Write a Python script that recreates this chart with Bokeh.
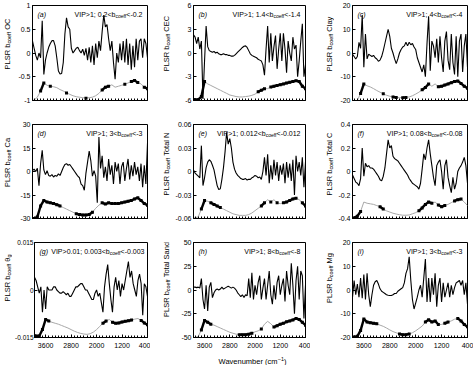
import re
import math
from bokeh.plotting import figure
from bokeh.layouts import row, column
from bokeh.models import Range1d, FixedTicker, Label
from bokeh.embed import file_html
from bokeh.resources import INLINE

# ---------------- data ----------------
X_TOP = list(range(3950, 399, -50))            # wavenumber grid of the b-coefficient lines
X_BOT = [3950] + list(range(3900, 399, -100))  # wavenumber grid of the lower (VIP) lines
X_TICKS = [3600, 2800, 2000, 1200, 400]
X_MINOR = list(range(3900, 399, -100))

a_top = [0.25, 0.1, -0.05, -0.15, 0.0, -0.1, 0.68, -0.45, -0.15, 0.0,
         0.12, 0.2, 0.26, 0.26, 0.15, -0.1, -0.38, -0.44, -0.43, -0.2,
         0.4, 0.74, 0.55, 0.5, 0.1, 0.0, 0.05, 0.1, 0.12, 0.05,
         0.0, 0.08, -0.05, 0.1, -0.15, 0.12, -0.2, 0.15, -0.25, 0.2,
         -0.1, 0.25, 0.05, 0.45, 0.8, 0.55, 0.6, 0.3, 0.05, 0.25,
         -0.2, -0.55, 0.0, -0.2, 0.2, -0.15, 0.25, -0.2, 0.3, -0.25,
         0.2, -0.35, 0.15, -0.3, 0.3, -0.15, 0.25, 0.3, -0.1, 0.3,
         0.2, -0.1]
a_bot = [-1.0, -0.99, -0.93, -0.8, -0.63, -0.68, -0.7, -0.71, -0.73, -0.77,
         -0.8, -0.84, -0.87, -0.9, -0.92, -0.93, -0.94, -0.95, -0.94, -0.93,
         -0.9, -0.85, -0.78, -0.72, -0.7, -0.67, -0.72, -0.7, -0.68, -0.66,
         -0.63, -0.6, -0.58, -0.62, -0.65, -0.72, -0.75]
a_vip = [0, 0, 0, 1, 1, 0, 1, 0, 0, 0, 0, 1, 0, 0, 0, 0, 0, 1, 0, 0,
         0, 0, 1, 1, 1, 0, 0, 0, 0, 1, 0, 1, 1, 1, 0, 1, 1]

b_top = [2.3, 2.0, 1.2, 2.0, 0.5, 1.5, -5.8, -1.0, 3.4, 0.8,
         0.3, 0.2, 0.1, 0.2, 0.0, 0.1, -0.1, -0.2, -0.2, -0.1,
         -0.2, -0.2, -0.3, -0.3, -0.4, -0.4, -0.3, -0.1, 0.1, 0.3,
         0.5, 0.7, 0.85, 0.9, 0.7, 0.3, -0.1, -0.3, -0.4, -0.5,
         -0.6, -0.8, -0.9, -1.0, -1.5, -2.8, 0.5, 3.4, -1.2, 2.5,
         -1.0, 0.8, 2.2, -2.0, 0.5, 2.5, -1.0, 2.5, 0.5, -2.5,
         1.5, 0.0, -1.0, 2.0, 0.5, 1.0, -3.0, -1.0, 1.5, 3.7,
         -3.0, -1.5]
b_bot = [-5.9, -5.9, -5.9, -5.5, -3.6, -3.9, -4.1, -4.3, -4.5, -4.7,
         -4.9, -5.1, -5.3, -5.4, -5.5, -5.55, -5.55, -5.5, -5.45, -5.35,
         -5.2, -4.9, -4.7, -4.5, -4.5, -4.3, -4.2, -4.1, -4.0, -3.9,
         -3.8, -3.7, -3.6, -3.5, -3.6, -4.2, -4.5]
b_vip = [1, 1, 1, 1, 1, 0, 0, 0, 0, 0, 0, 0, 0, 0, 0, 0, 0, 0, 0, 0,
         0, 1, 1, 1, 0, 1, 1, 1, 1, 1, 1, 1, 1, 1, 1, 1, 1]

c_top = [-0.5, -1.5, -2.5, -1.5, 4.5, 2.0, 16.0, -6.0, 8.0, -2.5,
         -0.5, -1.0, -1.5, -1.0, -2.0, -2.5, -3.5, -3.0, -1.5, 1.0,
         4.0, 7.0, 10.0, 7.0, 2.0, 0.0, -2.5, -4.5, -2.5, 0.0,
         1.5, 2.5, 3.0, 4.5, 3.0, 4.5, 3.5, 4.0, 2.5, 1.5,
         -2.0, -4.0, -6.0, -8.0, -5.0, -10.0, 4.0, 15.5, -7.5, 5.0,
         3.0, -2.0, 6.0, -4.0, 7.0, -2.0, -8.0, 5.0, 9.0, -3.0,
         -7.0, 8.0, -4.0, -9.0, 7.0, -10.0, 5.0, 8.0, -8.0, 3.0,
         8.0, -6.0]
c_bot = [-20, -20, -20, -17, -13, -13.8, -14.3, -15.0, -15.8, -16.5,
         -17.2, -17.8, -18.2, -18.5, -18.7, -18.8, -18.8, -18.7, -18.5, -18.0,
         -17.3, -16.5, -15.5, -14.5, -13.0, -14.0, -13.0, -14.2, -14.0, -13.5,
         -13.0, -12.5, -12.0, -11.8, -12.8, -14.0, -14.8]
c_vip = [0, 0, 0, 1, 1, 0, 0, 0, 0, 0, 1, 0, 0, 1, 1, 0, 1, 1, 0, 0,
         0, 0, 1, 1, 1, 0, 0, 1, 1, 1, 1, 1, 1, 1, 1, 1, 1]

d_top = [0.5, 1.5, 0.0, 2.0, -9.0, 5.0, 13.5, 1.0, -2.0, 0.5,
         -2.5, -3.0, -2.0, -3.5, -2.5, -3.0, -1.5, -2.5, 0.0, 2.5,
         4.5, 5.0, 4.0, 4.5, 3.0, 1.5, 0.0, -1.5, -3.0, -4.0,
         -8.0, -9.0, -12.0, -1.0, 6.0, 13.0, 7.0, -3.0, 0.5, -3.0,
         -20.0, 22.0, 2.0, 10.0, -4.0, 3.0, -6.0, 8.0, -2.0, 4.0,
         -8.0, 6.0, 0.0, 5.0, -8.0, 3.0, 6.0, -6.0, 2.0, 8.0,
         -5.0, 4.0, -3.0, 6.0, -2.0, 3.0, -6.0, 5.0, -10.0, 4.0,
         -8.0, 18.0]
d_bot = [-30, -30, -29, -22, -18.5, -19.5, -20.0, -20.5, -21.2, -22.0,
         -23.0, -24.0, -25.0, -26.0, -27.0, -27.5, -27.8, -27.8, -27.5, -26.0,
         -23.5, -21.5, -20.0, -20.8, -20.0, -20.5, -20.5, -20.5, -20.0, -19.5,
         -19.0, -18.5, -17.5, -16.8, -18.5, -20.5, -21.5]
d_vip = [1, 1, 1, 1, 1, 1, 1, 1, 1, 1, 0, 0, 0, 0, 1, 1, 1, 1, 1, 1,
         0, 0, 1, 1, 1, 1, 1, 1, 1, 1, 1, 1, 1, 1, 1, 1, 1]

e_top = [0.002, -0.002, -0.004, -0.006, -0.008, 0.033, -0.018, -0.008, 0.005, 0.012,
         0.015, 0.013, 0.008, 0.002, -0.008, -0.018, -0.023, -0.022, -0.01, 0.005,
         0.025, 0.05, 0.035, 0.042, 0.03, 0.012, 0.003, -0.002, -0.005, -0.007,
         -0.009, -0.01, -0.01, -0.009, -0.011, -0.01, -0.01, -0.008, -0.007, -0.005,
         -0.006, -0.008, -0.007, -0.01, 0.0, 0.018, -0.005, 0.022, -0.015, 0.008,
         -0.01, 0.015, -0.005, 0.012, -0.012, 0.008, -0.004, 0.01, -0.015, 0.012,
         -0.008, 0.01, -0.012, 0.015, -0.03, 0.02, 0.0, 0.012, -0.005, 0.018,
         -0.02, 0.012]
e_bot = [-0.06, -0.059, -0.058, -0.048, -0.037, -0.038, -0.04, -0.042, -0.044, -0.046,
         -0.048, -0.05, -0.052, -0.054, -0.055, -0.056, -0.056, -0.056, -0.055, -0.053,
         -0.05, -0.047, -0.044, -0.04, -0.036, -0.039, -0.036, -0.04, -0.041, -0.04,
         -0.039, -0.037, -0.035, -0.034, -0.036, -0.04, -0.044]
e_vip = [0, 0, 0, 1, 1, 0, 1, 1, 1, 1, 0, 0, 0, 0, 0, 0, 0, 0, 0, 0,
         0, 0, 1, 1, 0, 1, 0, 1, 0, 1, 1, 1, 1, 1, 0, 1, 1]

f_top = [-0.03, -0.06, -0.09, -0.1, -0.12, -0.06, 0.2, -0.04, 0.07, 0.04,
         0.05, 0.03, 0.03, 0.02, 0.0, -0.02, -0.04, -0.07, -0.08, -0.04,
         0.03, 0.15, 0.27, 0.2, 0.22, 0.13, 0.11, 0.1, 0.09, 0.07,
         0.05, 0.03, 0.01, -0.01, -0.03, -0.06, -0.08, -0.1, -0.11, -0.12,
         -0.13, -0.15, -0.1, 0.02, 0.15, 0.1, 0.2, 0.27, 0.15, 0.05,
         -0.05, -0.12, 0.05, 0.08, 0.1, 0.0, -0.15, 0.05, 0.1, -0.05,
         -0.12, -0.18, -0.05, -0.15, -0.1, 0.0, 0.03, 0.05, 0.08, 0.12,
         0.05, -0.1]
f_bot = [-0.4, -0.395, -0.38, -0.34, -0.26, -0.27, -0.275, -0.28, -0.29, -0.3,
         -0.32, -0.335, -0.345, -0.355, -0.362, -0.368, -0.372, -0.372, -0.37, -0.36,
         -0.35, -0.335, -0.31, -0.28, -0.26, -0.27, -0.26, -0.285, -0.3, -0.29,
         -0.28, -0.265, -0.25, -0.24, -0.235, -0.26, -0.29]
f_vip = [1, 1, 1, 1, 0, 0, 0, 0, 0, 1, 1, 0, 0, 0, 0, 0, 0, 0, 0, 0,
         0, 1, 1, 1, 1, 1, 0, 1, 1, 1, 0, 0, 1, 1, 1, 0, 0]

g_top = [0.004, 0.003, 0.001, -0.001, 0.001, -0.007, 0.0, -0.006, 0.001, 0.0,
         0.0, 0.0, 0.001, 0.001, 0.0, -0.0005, -0.001, -0.001, -0.0005, -0.001,
         -0.0015, -0.001, -0.002, -0.002, -0.001, 0.0, 0.001, 0.001, 0.0015, 0.002,
         0.002, 0.001, 0.0, 0.0, -0.001, -0.002, -0.003, -0.003, -0.001, 0.0,
         -0.002, -0.001, -0.004, -0.007, 0.001, 0.005, 0.008, 0.002, -0.003, -0.007,
         0.001, 0.004, 0.0, 0.003, -0.002, 0.002, 0.0, 0.003, 0.006, 0.009,
         0.004, 0.006, 0.002, 0.0, -0.002, 0.003, 0.005, 0.002, -0.008, 0.002,
         0.001, -0.002]
g_bot = [-0.0145, -0.0145, -0.0145, -0.0125, -0.0093, -0.0098, -0.0102, -0.0105, -0.0108, -0.0112,
         -0.0116, -0.012, -0.0125, -0.013, -0.0134, -0.0137, -0.0139, -0.014, -0.0138, -0.0133,
         -0.0125, -0.0115, -0.0105, -0.0098, -0.0093, -0.0102, -0.0105, -0.0104, -0.0101, -0.0099,
         -0.0097, -0.0095, -0.0092, -0.009, -0.0096, -0.0104, -0.011]
g_vip = [1, 1, 1, 1, 1, 1, 0, 0, 0, 0, 0, 0, 0, 0, 0, 0, 0, 0, 0, 0,
         0, 0, 1, 1, 0, 1, 1, 1, 1, 1, 1, 1, 0, 0, 1, 1, 1]

h_top = [3.0, 3.0, 2.5, 3.0, 2.0, 12.0, -10.0, -20.0, 5.0, -22.0,
         3.0, 8.0, -8.0, -3.0, 0.0, 1.0, 0.0, 1.0, 3.0, 1.0,
         2.0, 3.0, 4.0, 3.0, 2.0, 3.0, 2.0, 0.0, -3.0, -5.0,
         -7.0, -5.0, -8.0, -5.0, -6.0, 12.0, -8.0, 18.0, -10.0, 5.0,
         -5.0, 8.0, 15.0, -10.0, 2.0, 12.0, -10.0, 5.0, 20.0, -5.0,
         -15.0, 5.0, -10.0, 8.0, 15.0, -5.0, 5.0, 12.0, -12.0, 20.0,
         5.0, -5.0, 28.0, 5.0, -25.0, 10.0, 25.0, -10.0, 20.0, 15.0,
         -30.0, 5.0]
h_bot = [-50, -50, -49, -42, -32, -34, -36, -37, -38.5, -40,
         -41.5, -43, -44.5, -45.5, -46.5, -47, -47, -47, -46.5, -45.5,
         -44, -43, -41, -36, -33, -35.5, -39, -37.5, -36, -35,
         -33.5, -32.5, -31.5, -30, -31, -34, -37]
h_vip = [0, 0, 0, 1, 1, 1, 1, 0, 0, 0, 0, 0, 0, 0, 0, 1, 1, 1, 1, 1,
         0, 0, 1, 0, 0, 0, 1, 1, 1, 1, 1, 1, 1, 1, 1, 1, 1]

i_top = [-3.0, 4.0, -2.0, 2.5, -3.0, 5.0, -3.5, 6.5, -4.0, 7.0,
         -2.0, -7.0, -2.0, 2.0, 3.5, 4.0, 2.5, 0.5, -0.5, -1.0,
         -1.5, -2.0, -2.2, -2.3, -2.3, -2.0, -1.5, -1.5, -0.5, 0.0,
         0.5, 1.0, 3.0, 7.0, 9.0, 14.0, 4.0, -4.0, -8.0, -5.5,
         -3.0, 0.0, 2.0, -3.0, 5.0, 13.0, -5.0, 5.0, -5.0, 5.0,
         -2.0, 7.0, -7.0, 2.0, 5.0, -5.0, 3.0, -3.0, 0.0, 3.0,
         -3.0, 2.0, -2.0, 1.0, 3.0, 3.5, 4.0, 2.0, 4.0, -2.0,
         3.0, -6.0]
i_bot = [-20, -19.8, -19.5, -17, -12.2, -13.5, -13.8, -14, -14.2, -14.8,
         -15.3, -16, -16.8, -17.5, -18, -18.5, -18.8, -18.8, -18.5, -18,
         -17.2, -16.2, -15.2, -13.5, -12.5, -13.5, -13, -14.5, -14.5, -14,
         -13.5, -13, -12.3, -12, -13, -14.5, -15.5]
i_vip = [1, 1, 1, 1, 1, 1, 1, 1, 1, 0, 0, 0, 0, 0, 0, 1, 1, 1, 1, 0,
         0, 0, 0, 1, 1, 1, 1, 1, 0, 1, 1, 0, 0, 1, 1, 1, 1]

LETTERS = ["a", "b", "c", "d", "e", "f", "g", "h", "i"]
TOPS = [a_top, b_top, c_top, d_top, e_top, f_top, g_top, h_top, i_top]
BOTS = [a_bot, b_bot, c_bot, d_bot, e_bot, f_bot, g_bot, h_bot, i_bot]
VIPS = [a_vip, b_vip, c_vip, d_vip, e_vip, f_vip, g_vip, h_vip, i_vip]
Y_RANGES = [(-1, 1), (-6, 6), (-20, 20), (-30, 30), (-0.06, 0.06),
            (-0.4, 0.4), (-0.015, 0.015), (-50, 50), (-20, 20)]
Y_TICKS = [[-1, -0.5, 0, 0.5, 1], [-6, -3, 0, 3, 6], [-20, -10, 0, 10, 20],
           [-30, -15, 0, 15, 30], [-0.06, -0.03, 0, 0.03, 0.06],
           [-0.4, -0.2, 0, 0.2, 0.4], [-0.015, 0, 0.015],
           [-50, -25, 0, 25, 50], [-20, -10, 0, 10, 20]]
Y_TICK_LABELS = [["-1", "-0.5", "0", "0.5", "1"], ["-6", "-3", "0", "3", "6"],
                 ["-20", "-10", "0", "10", "20"], ["-30", "-15", "0", "15", "30"],
                 ["-0.06", "-0.03", "0", "0.03", "0.06"],
                 ["-0.4", "-0.2", "0", "0.2", "0.4"], ["-0.015", "0", "0.015"],
                 ["-50", "-25", "0", "25", "50"], ["-20", "-10", "0", "10", "20"]]
Y_LABELS = ["PLSR b_coeff_ OC", "PLSR b_coeff_ CEC", "PLSR b_coeff_ Clay",
            "PLSR b_coeff_ Ca", "PLSR b_coeff_ Total N", "PLSR b_coeff_ Total C",
            "PLSR b_coeff_ θ_g_", "PLSR b_coeff_ Total Sand", "PLSR b_coeff_ Mg"]
ANNOTATIONS = ["VIP>1; 0.2<b_coeff_<-0.2", "VIP>1; 1.4<b_coeff_<-1.4",
               "VIP>1; 4<b_coeff_<-4", "VIP>1; 3<b_coeff_<-3",
               "VIP>1; 0.012<b_coeff_<-0.012", "VIP>1; 0.08<b_coeff_<-0.08",
               "VIP>0.01; 0.003<b_coeff_<-0.003", "VIP>1; 8<b_coeff_<-8",
               "VIP>1; 3<b_coeff_<-3"]
X_LABEL = "Wavenumber (cm^−1^)"

for arr in TOPS:
    assert len(arr) == len(X_TOP), len(arr)
for arr in BOTS + VIPS:
    assert len(arr) == len(X_BOT), len(arr)

# ---------------- layout / style ----------------
FONT = "Liberation Sans"
COL_LW = [12, 21, 24]      # width of the strip holding each column's y label
COL_W = [138, 139, 139]
COL_BL = [20, 22, 18]
COL_BR = [3, 5, 6]
ROW_BT = [5, 12, 12]
ROW_PH = [95, 94, 95]
ROW_BB = [12, 12, 15]
YLAB_BASE = [7, 15.5, 18.5]
XLAB_H = 13
YTICK_FS = [7, 7, 7, 7, 7, 7, 6.5, 7, 7]
YTICK_STANDOFF = [2, 2, 2, 2, 2, 2, 1, 2, 2]

CW = {" ": 278, "(": 333, ")": 333, ";": 278, ".": 278, "-": 333, "<": 584, ">": 584,
      "−": 584, "A": 667, "C": 722, "I": 278, "L": 556, "M": 833, "N": 722, "O": 778,
      "P": 667, "R": 722, "S": 667, "T": 611, "V": 667, "W": 944, "a": 556, "b": 556,
      "c": 500, "d": 556, "e": 556, "f": 278, "g": 556, "l": 222, "m": 833, "n": 556,
      "o": 556, "r": 333, "u": 556, "v": 500, "y": 500, "θ": 556}


def text_w(s, fs):
    return sum(CW.get(ch, 556) for ch in s) * fs / 1000.0


def pieces(spec):
    out = []
    for tok in re.split(r'(_[^_]*_|\^[^^]*\^)', spec):
        if not tok:
            continue
        if tok[0] == "_":
            out.append((tok[1:-1], "sub"))
        elif tok[0] == "^":
            out.append((tok[1:-1], "sup"))
        else:
            out.append((tok, "n"))
    return out


def rich_text(p, spec, x, y, fs, align="left", vertical=False):
    ps = pieces(spec)
    small = fs * 0.72
    sizes = [fs if k == "n" else small for _, k in ps]
    widths = [text_w(t, s) for (t, _), s in zip(ps, sizes)]
    total = sum(widths)
    if align == "right":
        pos = -total
    elif align == "center":
        pos = -total / 2.0
    else:
        pos = 0.0
    for (t, kind), s, w in zip(ps, sizes, widths):
        lead = len(t) - len(t.lstrip(" "))
        start = pos + text_w(t[:lead], s)
        shift = 0.0
        if kind == "sub":
            shift = -0.25 * fs
        elif kind == "sup":
            shift = 0.4 * fs
        if t.strip():
            if vertical:
                lx, ly, ang = x - shift, y + start, math.pi / 2
            else:
                lx, ly, ang = x + start, y + shift, 0.0
            p.add_layout(Label(x=lx, y=ly, x_units="screen", y_units="screen",
                               text=t.strip(), angle=ang, text_font=FONT,
                               text_font_size=f"{s:.2f}px", text_color="black",
                               text_align="left", text_baseline="alphabetic"))
        pos += w


def text_strip(width, height):
    s = figure(width=width, height=height, x_range=Range1d(0, 1), y_range=Range1d(0, 1),
               output_backend="svg", toolbar_location=None, tools="",
               x_axis_location=None, y_axis_location=None,
               min_border_left=0, min_border_right=0, min_border_top=0, min_border_bottom=0)
    s.outline_line_color = None
    s.background_fill_color = "white"
    s.border_fill_color = "white"
    s.xgrid.visible = False
    s.ygrid.visible = False
    return s


rows = []
for r in range(3):
    items = []
    for c in range(3):
        k = 3 * r + c
        ph = ROW_PH[r]
        width = COL_W[c]
        height = ROW_BT[r] + ph + ROW_BB[r]
        pw = width - COL_BL[c] - COL_BR[c]

        strip = text_strip(COL_LW[c], height)
        rich_text(strip, Y_LABELS[k], YLAB_BASE[c], ROW_BB[r] + ph / 2.0 - 3, 7.5,
                  align="center", vertical=True)
        items.append(strip)

        p = figure(width=width, height=height, x_range=Range1d(3950, 400),
                   y_range=Range1d(*Y_RANGES[k]), output_backend="svg",
                   toolbar_location=None, tools="",
                   min_border_left=COL_BL[c], min_border_right=COL_BR[c],
                   min_border_top=ROW_BT[r], min_border_bottom=ROW_BB[r])
        p.background_fill_color = "white"
        p.border_fill_color = "white"
        p.outline_line_color = "black"
        p.outline_line_width = 1
        p.xgrid.visible = False
        p.ygrid.visible = False

        xa = p.xaxis[0]
        ya = p.yaxis[0]
        if r == 2:
            xa.ticker = FixedTicker(ticks=X_TICKS, minor_ticks=X_MINOR)
        else:
            xa.ticker = FixedTicker(ticks=[], minor_ticks=X_MINOR)
        ya.ticker = FixedTicker(ticks=Y_TICKS[k], minor_ticks=[])
        ya.major_label_overrides = {v: s for v, s in zip(Y_TICKS[k], Y_TICK_LABELS[k])}
        for ax in (xa, ya):
            ax.axis_line_color = "black"
            ax.major_tick_line_color = "black"
            ax.minor_tick_line_color = "black"
            ax.major_tick_in = 3
            ax.major_tick_out = 0
            ax.minor_tick_in = 2
            ax.minor_tick_out = 0
            ax.major_label_text_font = FONT
            ax.major_label_text_font_size = "7px"
            ax.major_label_text_color = "black"
        ya.major_label_text_font_size = f"{YTICK_FS[k]}px"
        ya.major_label_standoff = YTICK_STANDOFF[k]
        xa.major_label_standoff = 5

        top, bot, vip = TOPS[k], BOTS[k], VIPS[k]
        p.line(X_TOP, top, line_color="black", line_width=1.1)
        p.line(X_BOT, bot, line_color="#a8a8a8", line_width=1)
        x0, y0, x1, y1 = [], [], [], []
        for j in range(len(X_BOT) - 1):
            if vip[j] and vip[j + 1]:
                x0.append(X_BOT[j]); y0.append(bot[j])
                x1.append(X_BOT[j + 1]); y1.append(bot[j + 1])
        p.segment(x0, y0, x1, y1, line_color="black", line_width=2.4)
        vx = [xv for xv, f in zip(X_BOT, vip) if f]
        vy = [yv for yv, f in zip(bot, vip) if f]
        p.scatter(vx, vy, marker="square", size=3, fill_color="black", line_color=None)

        p.add_layout(Label(x=5, y=ph - 9, x_units="screen", y_units="screen",
                           text=f"({LETTERS[k]})", text_font=FONT, text_font_size="7px",
                           text_font_style="italic", text_color="black",
                           text_align="left", text_baseline="alphabetic"))
        rich_text(p, ANNOTATIONS[k], pw - 5, ph - 9, 7, align="right")
        items.append(p)
    rows.append(row(*items))

# x-axis title strip under the bottom row
xlab = text_strip(sum(COL_LW) + sum(COL_W), XLAB_H)
rich_text(xlab, X_LABEL, 252, 4, 7.5, align="center")
rows.append(xlab)

layout = column(*rows)
open("out.html", "w").write(file_html(layout, INLINE))
